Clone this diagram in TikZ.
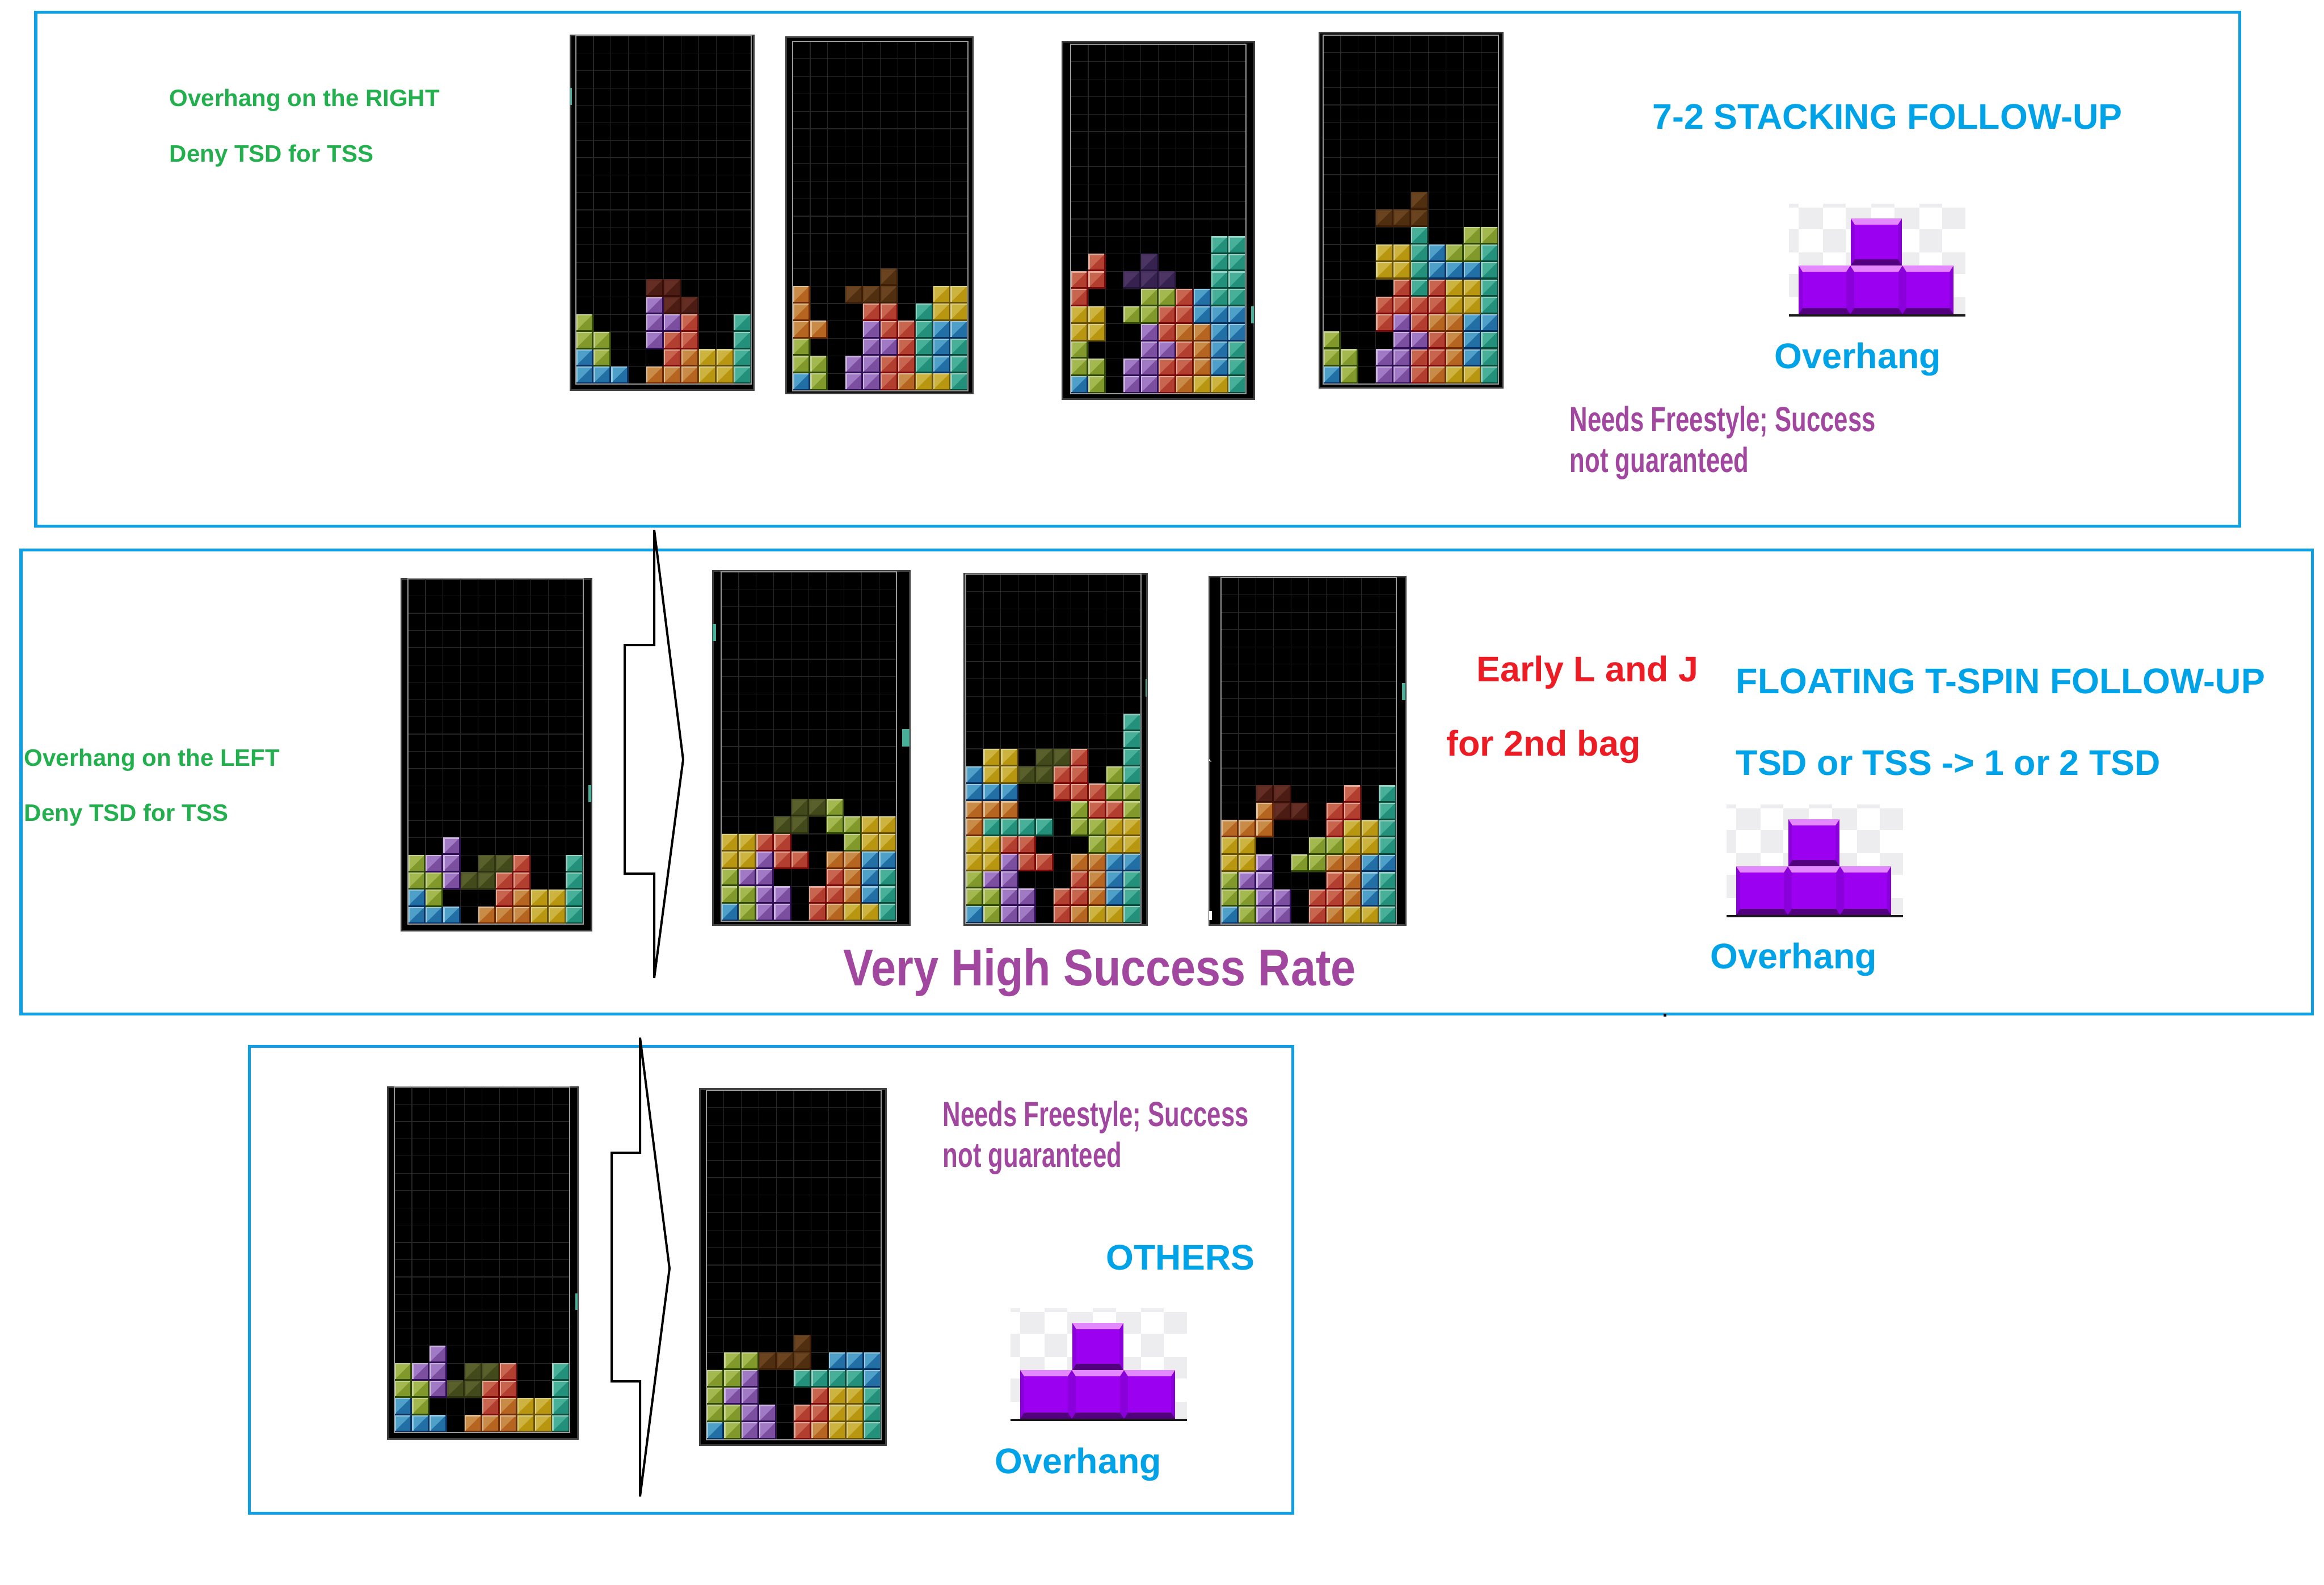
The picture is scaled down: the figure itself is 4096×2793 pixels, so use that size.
\documentclass[tikz,border=0pt]{standalone}
\usepackage{xcolor}
\usepackage{fontspec}
\setmainfont{Liberation Sans}
\newfontfamily\rateFont[FakeStretch=0.87]{Liberation Sans}
\newfontfamily\needsFont[FakeStretch=0.71]{Liberation Sans}

\definecolor{framecyan}{HTML}{0F9FE4}
\definecolor{titlecyan}{HTML}{00A2E8}
\definecolor{notegreen}{HTML}{22AF4D}
\definecolor{notepurple}{HTML}{A2479F}
\definecolor{notered}{HTML}{ED1C24}

\newcommand{\tetcolor}[5]{%
  \definecolor{tet#1l}{HTML}{#2}\definecolor{tet#1d}{HTML}{#3}%
  \definecolor{tet#1e}{HTML}{#4}\definecolor{tet#1p}{HTML}{#5}}
\tetcolor{R}{C8654F}{B23E30}{7A0A0A}{DFAA9A}
\tetcolor{P}{A07AC4}{7C4EA0}{2E0F55}{CDB4DE}
\tetcolor{O}{C88C48}{B5651F}{6E2A00}{DDBE98}
\tetcolor{Y}{CDB440}{B8960F}{6A5200}{D8D08C}
\tetcolor{G}{A4B850}{80992A}{2F4A00}{C6D094}
\tetcolor{T}{48B098}{22907A}{0A4A38}{98D0C4}
\tetcolor{B}{4FA0C8}{226FA6}{0A3060}{98C8DE}
\tetcolor{d}{642E24}{4A1C14}{3A0E08}{5A2A20}
\tetcolor{k}{6A4420}{502E10}{3E1E06}{5E3C1C}
\tetcolor{v}{4C3464}{36224E}{26143C}{46305C}
\tetcolor{g}{5A602C}{424A1C}{2E3410}{50562A}

\newcommand{\tetcell}[3]{%
  \fill[tet#3e] (#1,#2) rectangle ++(1,1);
  \fill[tet#3d] (#1+0.05,#2+0.1) rectangle (#1+0.92,#2+0.97);
  \fill[tet#3l] (#1+0.05,#2+0.1) -- (#1+0.05,#2+0.97) -- (#1+0.92,#2+0.97) -- cycle;
  \draw[tet#3p,line width=0.025cm] (#1+0.05,#2+0.1) -- (#1+0.05,#2+0.97) -- (#1+0.92,#2+0.97);}

\newcommand{\tetboard}[7]{%
  \fill[black,draw=black!75,line width=0.03cm] #1 rectangle #2;
  \pgfmathsetmacro{\cellw}{(#4-#3)/10*0.01}
  \pgfmathsetmacro{\cellh}{(#6-#5)/20*0.01}
  \begin{scope}[shift={(#3,#6)},x=\cellw cm,y=\cellh cm]
    \draw[black!85,line width=0.012cm] (0,0) grid[xstep=1,ystep=1] (10,20);
    \foreach \rowcells [count=\rownum from 0] in {#7} {
      \foreach \tc [count=\colnum from 0] in \rowcells {
        \if\tc.\else\tetcell{\colnum}{\rownum}{\tc}\fi
      }
    }
    \draw[black!40,line width=0.02cm] (0,0) rectangle (10,20);
  \end{scope}}

\newcommand{\iconblock}[4]{%
  \fill[iconmid] (#1,#2) rectangle (#3,#4);
  \fill[iconedge] (#1,#2) rectangle (#1+7,#4);
  \fill[iconedge] (#3-7,#2) rectangle (#3,#4);
  \fill[icontop] (#1,#2) -- (#3,#2) -- (#3-7,#2+11) -- (#1+7,#2+11) -- cycle;
  \fill[iconlow] (#1,#4) -- (#3,#4) -- (#3-7,#4-11) -- (#1+7,#4-11) -- cycle;}

\newcommand{\overhangicon}[2]{%
  \begin{scope}[shift={(#1,#2)}]
    \foreach \xa/\xb [count=\colnum] in {0/17,17/60,60/100,100/145,145/186,186/230,230/270,270/311} {
      \foreach \ya/\yb [count=\rownum] in {0/7,7/45,45/86,86/124,124/165,165/196} {
        \pgfmathtruncatemacro{\parity}{mod(\colnum+\rownum,2)}
        \ifnum\parity=0 \fill[checker] (\xa,\ya) rectangle (\xb,\yb);\fi
      }
    }
    \iconblock{109}{26}{199}{109}
    \iconblock{17}{109}{108}{195}
    \iconblock{108}{109}{200}{195}
    \iconblock{200}{109}{290}{195}
    \draw[black!90,line width=0.04cm] (0,197) -- (311,197);
  \end{scope}}

\definecolor{checker}{HTML}{EDEDEF}
\definecolor{iconmid}{HTML}{9C00F0}
\definecolor{iconedge}{HTML}{8A00DA}
\definecolor{icontop}{HTML}{E388FF}
\definecolor{iconlow}{HTML}{52007E}

\tikzset{
  bluebox/.style={draw=framecyan,line width=0.05cm},
  jumparrow/.style={draw=black,line width=0.04cm,line join=miter},
  nextpiece/.style={fill=tetTl},
  greentext/.style={text=notegreen,anchor=base west,inner sep=0pt,font=\fontsize{11.95pt}{14pt}\selectfont\bfseries},
  bluetext/.style={text=titlecyan,anchor=base west,inner sep=0pt,font=\fontsize{17.85pt}{20pt}\selectfont\bfseries},
  redtext/.style={text=notered,anchor=base west,inner sep=0pt,font=\fontsize{17.85pt}{20pt}\selectfont\bfseries},
  purpletext/.style={text=notepurple,anchor=base west,inner sep=0pt,font=\needsFont\fontsize{17.5pt}{20pt}\selectfont\bfseries},
  bigpurple/.style={text=notepurple,anchor=base west,inner sep=0pt,font=\rateFont\fontsize{25.9pt}{30pt}\selectfont\bfseries}
}

\begin{document}
\begin{tikzpicture}[x=0.01cm,y=-0.01cm]
\useasboundingbox (0,0) rectangle (4096,2793);

\draw[bluebox] (63,21) rectangle (3947,927);
\draw[bluebox] (37,969) rectangle (4075,1787);
\draw[bluebox] (439,1844) rectangle (2278,2667);
\fill[black] (2932,1787) rectangle (2937,1792);

\tetboard{(1005,62)}{(1328,687)}{1015}{1324}{63}{677}{
  {B,B,B,.,O,O,O,Y,Y,T},
  {B,G,.,.,.,R,O,Y,Y,T},
  {G,G,.,.,P,R,R,.,.,T},
  {G,.,.,.,P,P,R,.,.,T},
  {.,.,.,.,P,d,d,.,.,.},
  {.,.,.,.,d,d,.,.,.,.}}
\fill[nextpiece] (1005,155) rectangle (1008,185);

\tetboard{(1385,65)}{(1714,693)}{1397}{1706}{73}{689}{
  {B,G,.,P,P,R,O,Y,Y,T},
  {G,G,.,P,P,R,R,T,B,T},
  {G,.,.,.,P,P,R,T,B,T},
  {O,O,.,.,P,R,R,T,B,B},
  {O,.,.,.,R,R,.,T,Y,Y},
  {O,.,.,k,k,k,.,.,Y,Y},
  {.,.,.,.,.,k,.,.,.,.}}

\tetboard{(1872,73)}{(2210,703)}{1887}{2196}{78}{694}{
  {B,G,.,P,P,R,O,Y,Y,T},
  {G,G,.,P,P,R,R,O,B,T},
  {G,.,.,.,P,P,R,O,B,T},
  {Y,Y,.,.,P,R,O,O,B,B},
  {Y,Y,.,G,G,R,R,B,B,B},
  {R,.,.,.,G,G,R,B,T,T},
  {R,R,.,v,v,v,.,.,T,T},
  {.,R,.,.,v,.,.,.,T,T},
  {.,.,.,.,.,.,.,.,T,T}}
\fill[nextpiece] (2205,540) rectangle (2210,570);

\tetboard{(2325,57)}{(2648,683)}{2332}{2641}{62}{677}{
  {B,G,.,P,P,R,O,Y,Y,T},
  {G,G,.,P,P,R,R,O,B,T},
  {G,.,.,.,P,P,R,O,B,T},
  {.,.,.,R,P,R,O,O,B,B},
  {.,.,.,R,R,R,R,Y,Y,T},
  {.,.,.,.,R,T,R,Y,Y,T},
  {.,.,.,Y,Y,T,B,B,B,T},
  {.,.,.,Y,Y,T,B,G,G,T},
  {.,.,.,.,.,T,.,.,G,G},
  {.,.,.,k,k,k,.,.,.,.},
  {.,.,.,.,.,k,.,.,.,.}}

\tetboard{(707,1020)}{(1042,1640)}{719}{1028}{1020}{1629}{
  {B,B,B,.,O,O,O,Y,Y,T},
  {B,G,.,.,.,R,O,Y,Y,T},
  {G,G,P,g,g,R,R,.,.,T},
  {G,P,P,.,g,g,R,.,.,T},
  {.,.,P,.,.,.,.,.,.,.}}
\fill[nextpiece] (1037,1384) rectangle (1042,1414);

\tetboard{(1256,1006)}{(1603,1630)}{1271}{1580}{1008}{1624}{
  {B,G,P,P,.,R,O,Y,Y,T},
  {G,G,P,P,.,R,R,O,B,T},
  {G,P,P,.,.,.,R,O,B,T},
  {Y,Y,P,R,R,.,O,O,B,B},
  {Y,Y,R,R,.,.,.,G,Y,Y},
  {.,.,.,g,g,.,G,G,Y,Y},
  {.,.,.,.,g,g,G,.,.,.}}
\fill[nextpiece] (1256,1100) rectangle (1262,1130);
\fill[nextpiece] (1590,1285) rectangle (1603,1316);

\tetboard{(1699,1011)}{(2021,1630)}{1702}{2011}{1012}{1628}{
  {B,G,P,P,.,R,O,Y,Y,T},
  {G,G,P,P,.,R,R,O,B,T},
  {G,P,P,.,.,.,R,O,B,T},
  {Y,Y,P,R,R,.,O,O,B,B},
  {Y,Y,R,R,.,.,.,G,Y,Y},
  {O,T,T,T,T,.,G,G,Y,Y},
  {O,O,O,.,.,.,G,R,R,G},
  {B,B,B,.,.,R,R,R,G,G},
  {B,Y,Y,g,g,R,R,.,G,T},
  {.,Y,Y,.,g,g,R,.,.,T},
  {.,.,.,.,.,.,.,.,.,T},
  {.,.,.,.,.,.,.,.,.,T}}
\fill[nextpiece] (2019,1197) rectangle (2021,1228);

\tetboard{(2131,1016)}{(2477,1630)}{2152}{2461}{1018}{1629}{
  {B,G,P,P,.,R,O,Y,Y,T},
  {G,G,P,P,.,R,R,O,B,T},
  {G,P,P,.,.,.,R,O,B,T},
  {Y,Y,P,.,G,G,O,O,B,B},
  {Y,Y,.,.,.,G,G,Y,Y,T},
  {O,O,O,.,.,.,R,Y,Y,T},
  {.,.,O,d,d,.,R,R,.,T},
  {.,.,d,d,.,.,.,R,.,T}}
\fill[nextpiece] (2471,1204) rectangle (2477,1234);
\fill[white] (2131,1606) rectangle (2136,1622);
\fill[white] (2131,1338) -- (2135,1343) -- (2131,1341) -- cycle;

\tetboard{(683,1916)}{(1018,2536)}{695}{1004}{1916}{2525}{
  {B,B,B,.,O,O,O,Y,Y,T},
  {B,G,.,.,.,R,O,Y,Y,T},
  {G,G,P,g,g,R,R,.,.,T},
  {G,P,P,.,g,g,R,.,.,T},
  {.,.,P,.,.,.,.,.,.,.}}
\fill[nextpiece] (1014,2280) rectangle (1018,2309);

\tetboard{(1233,1919)}{(1561,2547)}{1245}{1553}{1922}{2538}{
  {B,G,P,P,.,R,O,Y,Y,T},
  {G,G,P,P,.,R,R,Y,Y,T},
  {G,P,P,.,.,.,R,Y,Y,T},
  {G,G,P,.,.,T,T,T,T,B},
  {.,G,G,k,k,k,.,B,B,B},
  {.,.,.,.,.,k,.,.,.,.}}

\draw[jumparrow] (1153,934) -- (1153,1137) -- (1101,1137) -- (1101,1540) -- (1153,1540) -- (1153,1724) -- (1204,1339) -- cycle;
\draw[jumparrow] (1128,1829) -- (1128,2032) -- (1078,2032) -- (1078,2435) -- (1128,2435) -- (1128,2638) -- (1180,2236) -- cycle;

\overhangicon{3153}{359}
\overhangicon{3043}{1418}
\overhangicon{1781}{2306}

\node[greentext] (rightnote) at (298,187) {Overhang on the RIGHT};
\node[greentext] (rightdeny) at (298,285) {Deny TSD for TSS};
\node[bluetext] (stacktitle) at (2912,227) {7-2 STACKING FOLLOW-UP};
\node[bluetext] (hangtop) at (3127,649) {Overhang};
\node[purpletext] (needstop) at (2766,760) {Needs Freestyle; Success};
\node[purpletext] (guartop) at (2766,832) {not guaranteed};

\node[greentext] (leftnote) at (42,1350) {Overhang on the LEFT};
\node[greentext] (leftdeny) at (42,1447) {Deny TSD for TSS};
\node[redtext] (earlynote) at (2602,1201) {Early L and J};
\node[redtext] (bagnote) at (2549,1332) {for 2nd bag};
\node[bluetext] (floattitle) at (3059,1222) {FLOATING T-SPIN FOLLOW-UP};
\node[bluetext] (tsdnote) at (3059,1366) {TSD or TSS -> 1 or 2 TSD};
\node[bluetext] (hangmid) at (3014,1707) {Overhang};
\node[bigpurple] (ratenote) at (1486,1737) {Very High Success Rate};

\node[purpletext] (needslow) at (1661,1985) {Needs Freestyle; Success};
\node[purpletext] (guarlow) at (1661,2057) {not guaranteed};
\node[bluetext] (otherstitle) at (1949,2238) {OTHERS};
\node[bluetext] (hanglow) at (1753,2597) {Overhang};

\end{tikzpicture}
\end{document}
